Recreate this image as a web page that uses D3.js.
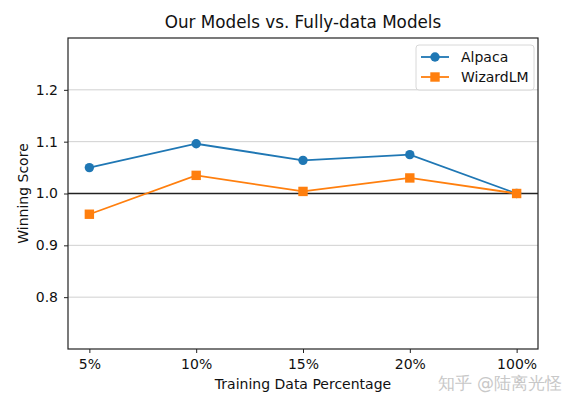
<!DOCTYPE html>
<html>
<head>
<meta charset="utf-8">
<script src="https://cdn.jsdelivr.net/npm/d3@7"></script>
<style>
  body { margin: 0; background: #fff; }
  text { font-family: "DejaVu Sans", sans-serif; }
</style>
</head>
<body>
<div id="chart"></div>
<script>
// data
const categories = ["5%", "10%", "15%", "20%", "100%"];
const alpaca = [1.050, 1.096, 1.064, 1.075, 1.000];
const wizardlm = [0.960, 1.035, 1.004, 1.030, 1.000];
const yTicks = [0.8, 0.9, 1.0, 1.1, 1.2];

const W = 575, H = 405;
const margin = {top: 38, right: 37, bottom: 56, left: 68};
const width = W - margin.left - margin.right;
const height = H - margin.top - margin.bottom;

const svg = d3.select("#chart").append("svg")
  .attr("width", W).attr("height", H);
const g = svg.append("g")
  .attr("transform", `translate(${margin.left},${margin.top})`);

const x = d3.scaleLinear().domain([-0.2, 4.2]).range([0, width]);
const y = d3.scaleLinear().domain([0.7, 1.3]).range([height, 0]);

// grid
g.selectAll(".grid").data(yTicks).enter().append("line")
  .attr("x1", 0).attr("x2", width)
  .attr("y1", d => y(d)).attr("y2", d => y(d))
  .attr("stroke", "#d0d0d0").attr("stroke-width", 1);

// reference line at 1.0
g.append("line")
  .attr("x1", 0).attr("x2", width)
  .attr("y1", y(1)).attr("y2", y(1))
  .attr("stroke", "#222").attr("stroke-width", 1.5);

// axes
const xAxis = g.append("g")
  .attr("transform", `translate(0,${height})`)
  .call(d3.axisBottom(x).tickValues(d3.range(categories.length))
    .tickFormat(i => categories[i]).tickSize(4).tickPadding(6));
const yAxis = g.append("g")
  .call(d3.axisLeft(y).tickValues(yTicks).tickFormat(d3.format(".1f"))
    .tickSize(4).tickPadding(6));
[xAxis, yAxis].forEach(a => {
  a.select(".domain").remove();
  a.selectAll("text").attr("font-size", 14).attr("fill", "#111")
    .attr("font-family", "DejaVu Sans");
  a.selectAll("line").attr("stroke", "#222");
});

// frame
g.append("rect").attr("width", width).attr("height", height)
  .attr("fill", "none").attr("stroke", "#222").attr("stroke-width", 1.2);

const line = d3.line().x((d, i) => x(i)).y(d => y(d));

// Alpaca
g.append("path").datum(alpaca).attr("d", line)
  .attr("fill", "none").attr("stroke", "#1f77b4").attr("stroke-width", 1.8);
g.selectAll(".dotA").data(alpaca).enter().append("circle")
  .attr("cx", (d, i) => x(i)).attr("cy", d => y(d)).attr("r", 4.7)
  .attr("fill", "#1f77b4");

// WizardLM
g.append("path").datum(wizardlm).attr("d", line)
  .attr("fill", "none").attr("stroke", "#ff7f0e").attr("stroke-width", 1.8);
g.selectAll(".sqW").data(wizardlm).enter().append("rect")
  .attr("x", (d, i) => x(i) - 4.7).attr("y", d => y(d) - 4.7)
  .attr("width", 9.4).attr("height", 9.4)
  .attr("fill", "#ff7f0e");

// legend
const lg = g.append("g").attr("transform", `translate(${width - 122},7)`);
lg.append("rect").attr("width", 118).attr("height", 45).attr("rx", 3)
  .attr("fill", "#fff").attr("fill-opacity", 0.85)
  .attr("stroke", "#d8d8d8");
[["Alpaca", "#1f77b4", "circle"], ["WizardLM", "#ff7f0e", "square"]].forEach((s, i) => {
  const yy = 12 + i * 20;
  lg.append("line").attr("x1", 5).attr("x2", 33).attr("y1", yy).attr("y2", yy)
    .attr("stroke", s[1]).attr("stroke-width", 1.8);
  if (s[2] === "circle") {
    lg.append("circle").attr("cx", 19).attr("cy", yy).attr("r", 4.7).attr("fill", s[1]);
  } else {
    lg.append("rect").attr("x", 14.3).attr("y", yy - 4.7).attr("width", 9.4).attr("height", 9.4).attr("fill", s[1]);
  }
  lg.append("text").attr("x", 45).attr("y", yy + 5).attr("font-size", 14)
    .attr("fill", "#111").text(s[0]);
});

// titles
svg.append("text").attr("x", margin.left + width / 2).attr("y", 28)
  .attr("text-anchor", "middle").attr("font-size", 16.8).attr("fill", "#111")
  .text("Our Models vs. Fully-data Models");
svg.append("text").attr("x", margin.left + width / 2).attr("y", 389)
  .attr("text-anchor", "middle").attr("font-size", 14).attr("fill", "#111")
  .text("Training Data Percentage");
svg.append("text")
  .attr("transform", `translate(28,${margin.top + height / 2}) rotate(-90)`)
  .attr("text-anchor", "middle").attr("font-size", 14).attr("fill", "#111")
  .text("Winning Score");

// watermark
svg.append("text").attr("x", 562).attr("y", 389).attr("text-anchor", "end")
  .attr("font-size", 17).attr("fill", "#c8c8c8")
  .attr("font-family", "Noto Sans CJK SC")
  .text("知乎 @陆离光怪");
</script>
</body>
</html>
